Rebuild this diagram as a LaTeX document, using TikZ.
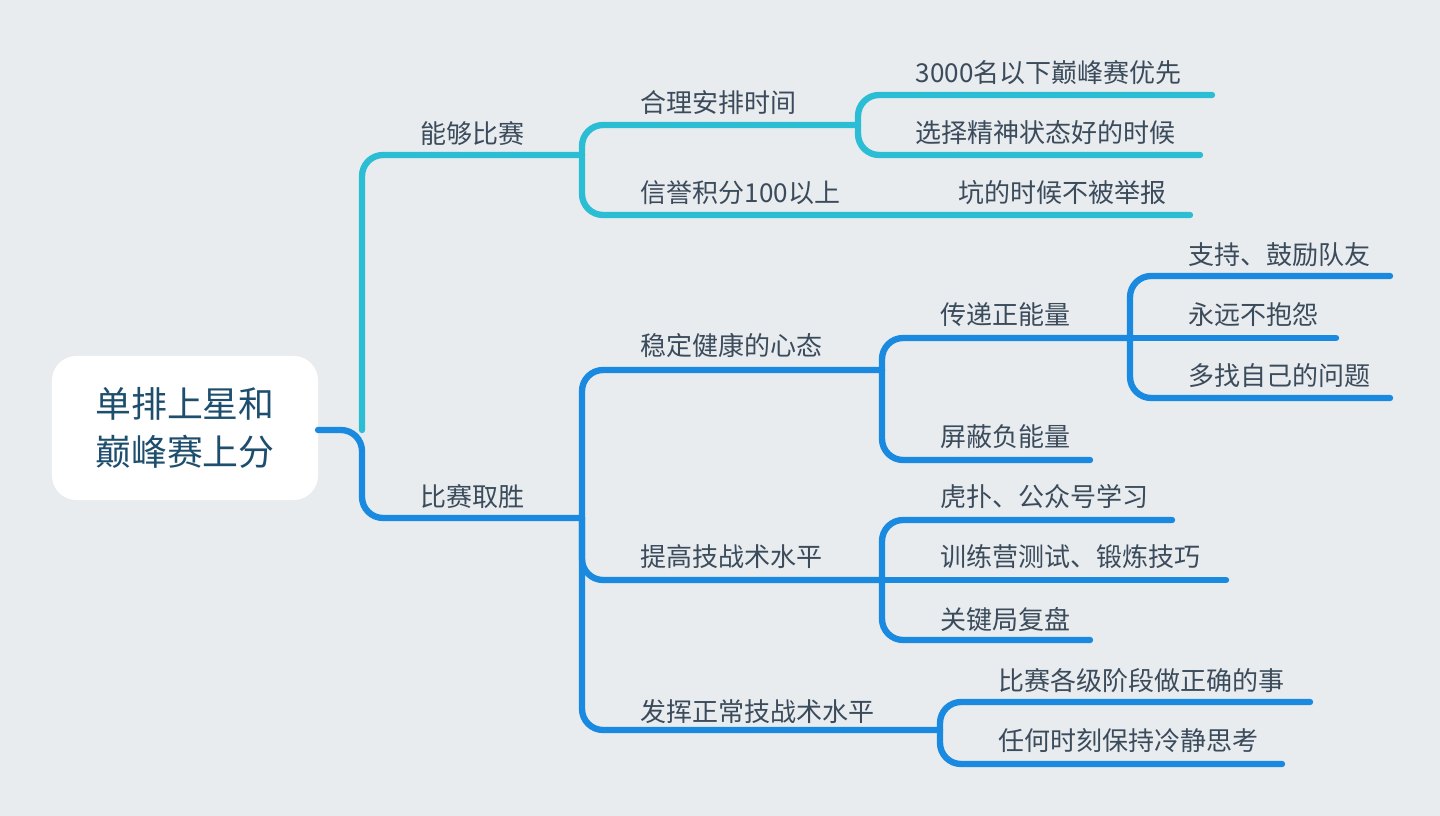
\documentclass[tikz,border=0pt]{standalone}
\usepackage{fontspec}
\setmainfont{Noto Sans CJK SC}
\begin{document}
\begin{tikzpicture}[x=0.01cm,y=-0.01cm,
  e/.style={line width=1.8pt,rounded corners=6pt,line cap=round},
  tl/.style={e,draw=tealc}, bl/.style={e,draw=bluec},
  lb/.style={anchor=base west,inner sep=0pt,text=txt,font=\fontsize{7.4}{9}\selectfont}]
\definecolor{bg}{HTML}{E8ECEF}\definecolor{tealc}{HTML}{2BBDD3}
\definecolor{bluec}{HTML}{1A8AE0}\definecolor{txt}{HTML}{3B4B5B}\definecolor{roottxt}{HTML}{1D4E6E}
\fill[bg] (0,0) rectangle (1440,816);
\useasboundingbox (0,0) rectangle (1440,816);
\node[fill=white,rounded corners=7pt,minimum width=2.66cm,minimum height=1.44cm,align=center,text=roottxt,font=\fontsize{10.2}{13.5}\selectfont] (root) at (185,428) {单排上星和\\巅峰赛上分};
% coordinates
\coordinate (r) at (318,430);
\coordinate (a) at (362,430);
% teal
\draw[tl] (a) |- (582,155) coordinate (A);
\draw[bl] (r) -- (a) |- (582,518) coordinate (B);
\draw[tl] (A) |- (858,125) coordinate (A1);
\draw[tl] (A) |- (1190,215) coordinate (A2);
\draw[tl] (A1) |- (1212,95) coordinate (A11);
\draw[tl] (A1) |- (1200,155) coordinate (A12);
% blue
\draw[bl] (B) |- (882,370) coordinate (B1);
\draw[bl] (B) |- (882,580) coordinate (B2);
\draw[bl] (B) |- (940,730) coordinate (B3);
\draw[bl] (B1) |- (1130,338) coordinate (B11);
\draw[bl] (B1) |- (1090,460) coordinate (B12);
\draw[bl] (B11) |- (1390,276) coordinate (B111);
\draw[bl] (B11) -- (1336,338) coordinate (B112);
\draw[bl] (B11) |- (1390,398) coordinate (B113);
\draw[bl] (B2) |- (1172,520) coordinate (B21);
\draw[bl] (B2) -- (1226,580) coordinate (B22);
\draw[bl] (B2) |- (1090,640) coordinate (B23);
\draw[bl] (B3) |- (1310,702) coordinate (B31);
\draw[bl] (B3) |- (1282,764) coordinate (B32);
% labels
\node[lb] (t1) at (420,144) {能够比赛};
\node[lb] (t2) at (640,113) {合理安排时间};
\node[lb] (t3) at (915,83) {3000名以下巅峰赛优先};
\node[lb] (t4) at (915,143) {选择精神状态好的时候};
\node[lb] (t5) at (640,203) {信誉积分100以上};
\node[lb] (t6) at (958,203) {坑的时候不被举报};
\node[lb] (t7) at (420,507) {比赛取胜};
\node[lb] (t8) at (640,356) {稳定健康的心态};
\node[lb] (t9) at (940,325) {传递正能量};
\node[lb] (t10) at (1188,265) {支持、鼓励队友};
\node[lb] (t11) at (1188,325) {永远不抱怨};
\node[lb] (t12) at (1188,386) {多找自己的问题};
\node[lb] (t13) at (940,447) {屏蔽负能量};
\node[lb] (t14) at (640,567) {提高技战术水平};
\node[lb] (t15) at (940,507) {虎扑、公众号学习};
\node[lb] (t16) at (940,567) {训练营测试、锻炼技巧};
\node[lb] (t17) at (940,629) {关键局复盘};
\node[lb] (t18) at (640,721) {发挥正常技战术水平};
\node[lb] (t19) at (998,690) {比赛各级阶段做正确的事};
\node[lb] (t20) at (998,750) {任何时刻保持冷静思考};
\end{tikzpicture}
\end{document}
